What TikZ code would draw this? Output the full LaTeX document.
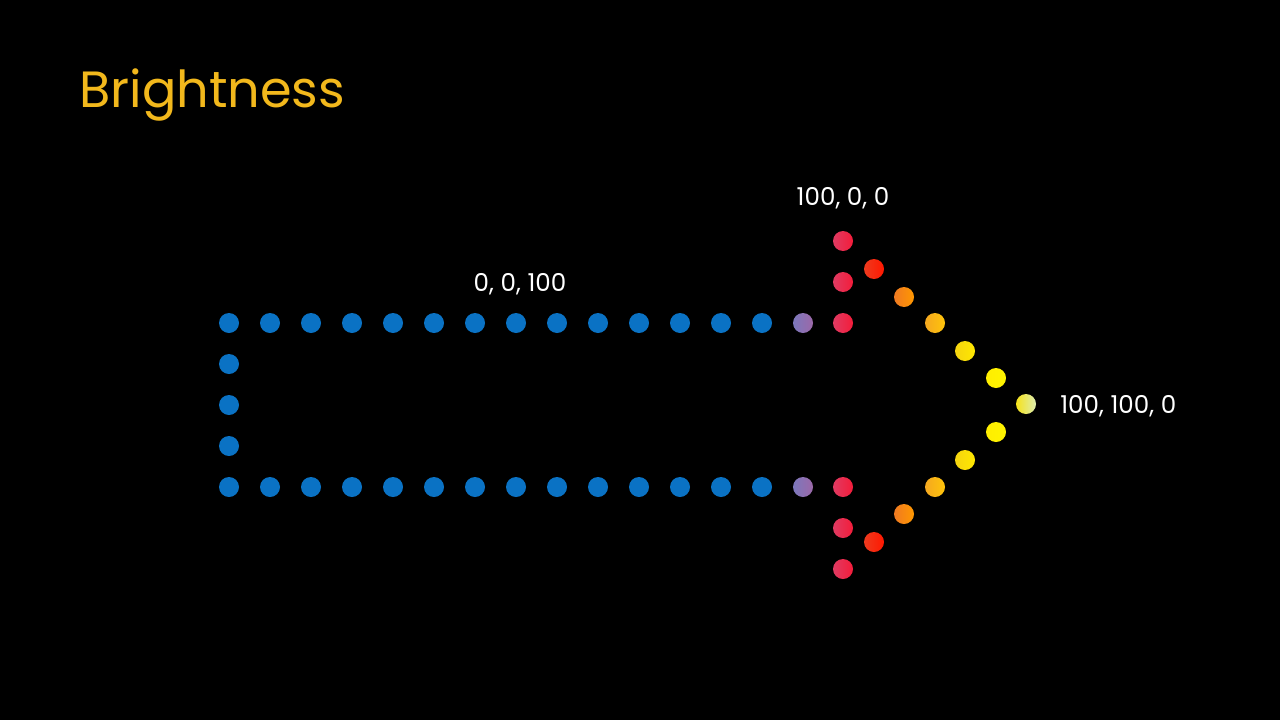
\documentclass[tikz,border=0pt]{standalone}
\usepackage{fontspec}
\setmainfont{Poppins}
\definecolor{titlegold}{HTML}{F2B81C}
\definecolor{dotblue}{HTML}{0A72C4}
\definecolor{purL}{HTML}{7C78BC}\definecolor{purR}{HTML}{9C68A8}
\definecolor{redL}{HTML}{E03A62}\definecolor{redR}{HTML}{F41C3A}
\definecolor{oraL}{HTML}{EE3A1E}\definecolor{oraR}{HTML}{FF1800}
\definecolor{orgL}{HTML}{F07A22}\definecolor{orgR}{HTML}{FF9800}
\definecolor{ambL}{HTML}{F5A820}\definecolor{ambR}{HTML}{FFC40A}
\definecolor{yelL}{HTML}{F5D410}\definecolor{yelR}{HTML}{FFE800}
\definecolor{ylwL}{HTML}{FFEE00}\definecolor{ylwR}{HTML}{FFF400}
\definecolor{tipL}{HTML}{F6E21A}\definecolor{tipR}{HTML}{DDEDB0}
\begin{document}
\begin{tikzpicture}[x=0.02cm,y=-0.02cm,
  dot/.style={circle,inner sep=0pt,minimum size=20*0.02cm},
  bluedot/.style={dot,fill=dotblue},
  grad/.style={dot,left color=#1L,right color=#1R},
  lbl/.style={text=white,font=\fontsize{14pt}{16pt}\selectfont,inner sep=0pt}]
\useasboundingbox[fill=black] (0,0) rectangle (1280,720);
\node[anchor=base west,inner sep=0pt,text=titlegold,font=\fontsize{29pt}{34pt}\selectfont] (title) at (79,107) {Brightness};
% top and bottom rows of blue dots
\foreach \i in {0,...,13} {
  \node[bluedot] (t\i) at ({229+41*\i},323) {};
  \node[bluedot] (b\i) at ({229+41*\i},487) {};
}
% left column
\foreach \j/\y in {1/364,2/405,3/446} {
  \node[bluedot] (l\j) at (229,\y) {};
}
% purple
\node[grad=pur] (pt) at (803,323) {};
\node[grad=pur] (pb) at (803,487) {};
% red-pink column
\foreach \n/\y in {r1/241,r2/282,r3/323,r4/487,r5/528,r6/569} {
  \node[grad=red] (\n) at (843,\y) {};
}
% arrow head
\node[grad=ora] (o1t) at (874,269) {};
\node[grad=ora] (o1b) at (874,542) {};
\node[grad=org] (o2t) at (904,297) {};
\node[grad=org] (o2b) at (904,514) {};
\node[grad=amb] (o3t) at (935,323) {};
\node[grad=amb] (o3b) at (935,487) {};
\node[grad=yel] (y1t) at (965,351) {};
\node[grad=yel] (y1b) at (965,460) {};
\node[grad=ylw] (y2t) at (996,378) {};
\node[grad=ylw] (y2b) at (996,432) {};
\node[grad=tip] (tip) at (1026,404) {};
% labels
\node[lbl] (lblue) at (520,284) {0, 0, 100};
\node[lbl] (lred) at (843,198) {100, 0, 0};
\node[lbl,anchor=west] (lyel) at (1060,406) {100, 100, 0};
\end{tikzpicture}
\end{document}
